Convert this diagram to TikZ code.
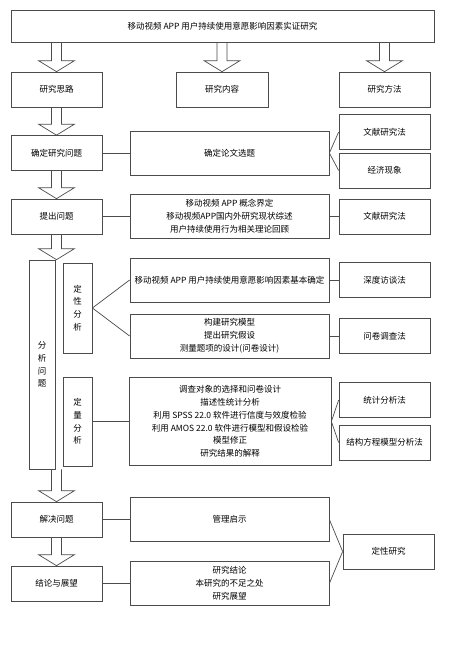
\documentclass[tikz,border=0pt]{standalone}
\usepackage{fontspec}
\setmainfont{Noto Sans CJK SC}
\usetikzlibrary{calc}

\begin{document}
\begin{tikzpicture}[
    x=1pt, y=-1pt,
    box/.style={rectangle, draw=black!70, line width=0.7pt, align=center, inner sep=1pt, font=\fontsize{8.5}{12.8}\selectfont},
    left/.style={box, minimum width=91pt, minimum height=35pt},
    right/.style={box, minimum width=91pt, minimum height=35pt},
    mid/.style={box, minimum width=199pt, minimum height=44pt},
    link/.style={draw=black!70, line width=0.7pt},
    hollow/.style={draw=black!70, line width=0.7pt, to path={
        let \p1=(\tikztostart), \p2=(\tikztotarget) in
        (\x1-5pt,\y1) -- (\x1-5pt,\y2+11pt) -- (\x1-18pt,\y2+11pt) -- (\x1,\y2)
        -- (\x1+18pt,\y2+11pt) -- (\x1+5pt,\y2+11pt) -- (\x1+5pt,\y1)}},
]

\path[fill=white, use as bounding box] (0,0) rectangle (474,645);

% Title
\node[box, minimum width=423pt, minimum height=32pt] (top) at (222.5,26) {移动视频 APP 用户持续使用意愿影响因素实证研究};

% Three columns
\node[left] (idea) at (56.5,89.5) {研究思路};
\node[box, minimum width=92pt, minimum height=35pt] (content) at (222,89.5) {研究内容};
\node[right] (method) at (384.5,89.5) {研究方法};

\draw[hollow] (top.south -| idea) to (idea.north);
\draw[hollow] (top.south -| content) to (content.north);
\draw[hollow] (top.south -| method) to (method.north);

% Research question
\node[left] (q1) at (56.5,153) {确定研究问题};
\node[mid] (t1) at (229.5,153) {确定论文选题};
\node[right] (m1a) at (384.5,132) {文献研究法};
\node[right] (m1b) at (384.5,170.5) {经济现象};

\draw[hollow] (idea.south) to (q1.north);
\draw[link] (q1) -- (t1);
\draw[link] (t1.east) -- (m1a.west);
\draw[link] (t1.east) -- (m1b.west);

% Raise question
\node[left] (q2) at (56.5,216.5) {提出问题};
\node[mid] (t2) at (229.5,216.5) {移动视频 APP 概念界定\\移动视频APP国内外研究现状综述\\用户持续使用行为相关理论回顾};
\node[right] (m2) at (384.5,216.5) {文献研究法};

\draw[hollow] (q1.south) to (q2.north);
\draw[link] (q2) -- (t2);
\draw[link] (t2) -- (m2);

% Analysis
\node[box, minimum width=26pt, minimum height=209pt] (ana) at (42,364.5) {分\\析\\问\\题};
\node[box, minimum width=29pt, minimum height=90pt] (qual) at (77.5,308) {定\\性\\分\\析};
\node[box, minimum width=29pt, minimum height=89pt] (quan) at (77.5,421.5) {定\\量\\分\\析};

\draw[hollow] (q2.south) to (q2.south |- ana.north);

\node[mid] (t3) at (229.5,280) {移动视频 APP 用户持续使用意愿影响因素基本确定};
\node[mid] (t4) at (229.5,336) {构建研究模型\\提出研究假设\\测量题项的设计(问卷设计)};
\node[right] (m3) at (384.5,280) {深度访谈法};
\node[right] (m4) at (384.5,336) {问卷调查法};

\draw[link] (qual.east) -- (t3.west);
\draw[link] (qual.east) -- (t4.west);
\draw[link] (t3) -- (m3);
\draw[link] (t4) -- (m4);

\node[box, minimum width=202pt, minimum height=88pt] (t5) at (230,421.5) {调查对象的选择和问卷设计\\描述性统计分析\\利用 SPSS 22.0 软件进行信度与效度检验\\利用 AMOS 22.0 软件进行模型和假设检验\\模型修正\\研究结果的解释};
\node[right] (m5) at (384.5,400) {统计分析法};
\node[right] (m6) at (384.5,442.5) {结构方程模型分析法};

\draw[link] (quan) -- (t5);
\draw[link] (t5.east) -- (m5.west);
\draw[link] (t5.east) -- (m6.west);

% Solve and conclude
\node[left] (q3) at (56.5,519.5) {解决问题};
\node[mid] (t6) at (229.5,519.5) {管理启示};
\node[left] (q4) at (56.5,583.5) {结论与展望};
\node[mid] (t7) at (229.5,583.5) {研究结论\\本研究的不足之处\\研究展望};
\node[right] (m7) at (388.5,551.5) {定性研究};

\draw[hollow] (ana.south -| q3) to (q3.north);
\draw[hollow] (q3.south) to (q4.north);
\draw[link] (q3) -- (t6);
\draw[link] (q4) -- (t7);
\draw[link] (t6.east) -- (m7.west);
\draw[link] (t7.east) -- (m7.west);

\end{tikzpicture}
\end{document}
